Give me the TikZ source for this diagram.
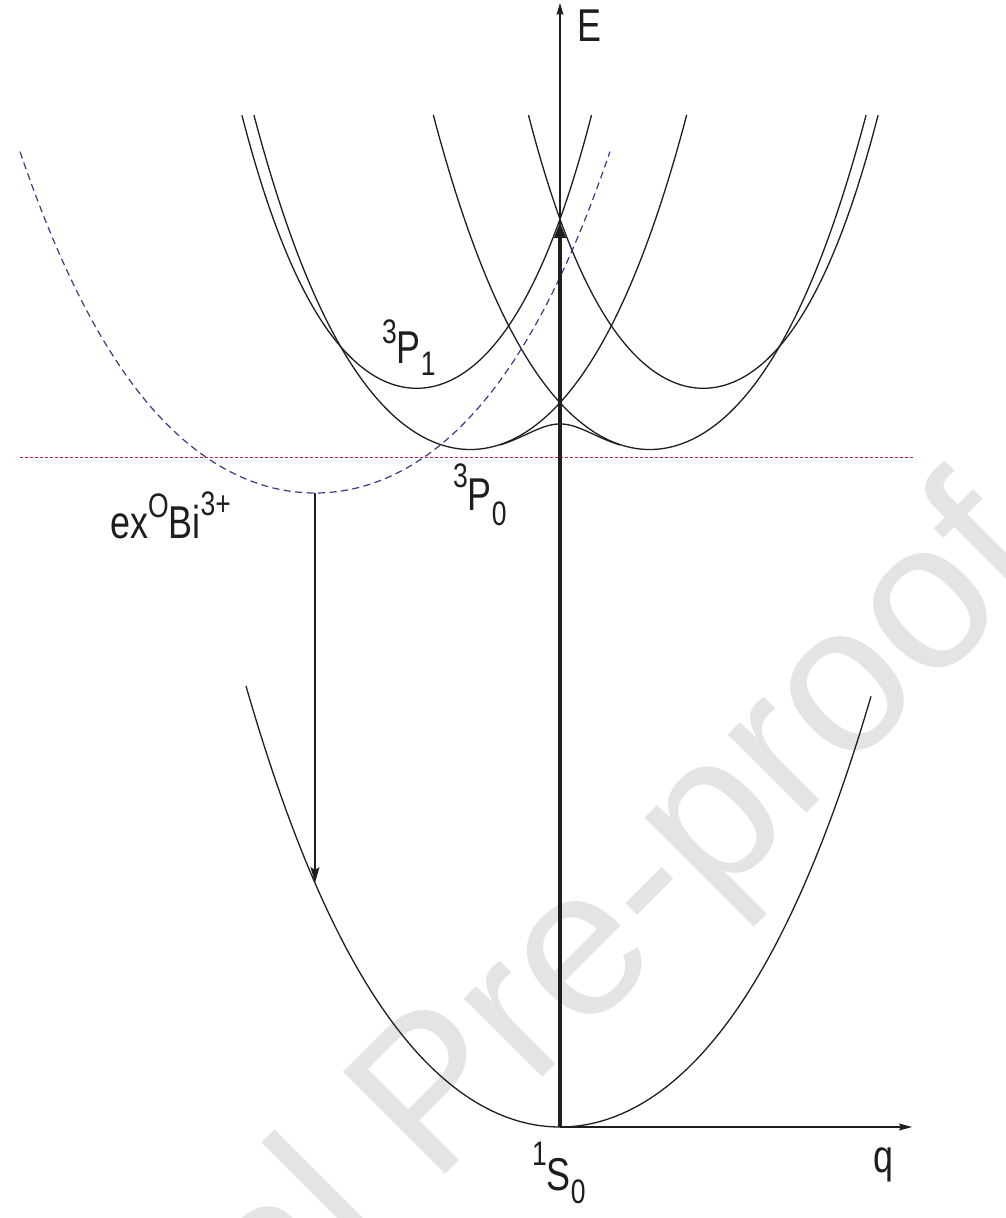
\documentclass[tikz,border=0pt]{standalone}
\usepackage{fontspec}
\setmainfont{Liberation Sans}
\newfontfamily\lbl[FakeStretch=0.78]{Liberation Sans}
\usetikzlibrary{arrows.meta}
\definecolor{ink}{HTML}{1E1E1E}
\definecolor{navy}{HTML}{3A3A8C}
\definecolor{dotred}{RGB}{200,30,60}
\definecolor{wmgray}{HTML}{E4E4E4}
\newcommand\Lsup[2]{\raisebox{#1pt}{\fontsize{34}{34}\selectfont #2}}
\newcommand\Lsub[2]{\raisebox{-#1pt}{\fontsize{34}{34}\selectfont #2}}
\begin{document}
\begin{tikzpicture}[x=1pt,y=-1pt,
  curve/.style={draw=ink,line width=1.3pt},
  lab/.style={text=ink,inner sep=0pt,font=\lbl\fontsize{46}{46}\selectfont},
  wm/.style={text=wmgray,inner sep=0pt,font=\fontsize{210}{210}\selectfont},
  axis/.style={draw=ink,line width=1.1pt},
  level/.style={draw=dotred,line width=1.4pt,dash pattern=on 3pt off 2pt},
  declare function={
    fP(\t)=(\t/100)*(\t/100)*(68+7*(\t/100)*(\t/100));
    fL(\t)=(\t/100)*(\t/100)*(55.42+3.42*(\t/100)*(\t/100));
    fB(\t)=(\t/100)*(\t/100)*(28.7+1.21*(\t/100)*(\t/100));
    fG(\t)=(\t/100)*(\t/100)*(34.3+1.057*(\t/100)*(\t/100));
    ad(\t)=min(fL(\t-470.3),fL(\t-649.7))-30.7*ln(1+exp(-abs(fL(\t-470.3)-fL(\t-649.7))/30.7));
  }]
\useasboundingbox[fill=white] (0,0) rectangle (1006,1218);
% watermark
\node[wm,rotate=45,anchor=base west] (wm) at (-95,1715) {Journal Pre-proof};
% named points
\coordinate (O) at (560,1127);
\coordinate (Etop) at (560,3);
\coordinate (exc) at (560,222);
\coordinate (qend) at (912,1127);
\coordinate (bimin) at (315,493);
\coordinate (land) at (315,883);
\coordinate (lvlL) at (20,457.5);
\coordinate (lvlR) at (913,457.5);
% reference level
\draw[level] (lvlL) -- (lvlR);
% ground state
\draw[curve] plot[domain=-314:311,samples=140] ({560+\x},{1127-fG(\x)});
% 3P1 diabatic
\draw[curve] plot[domain=-174.8:174.8,samples=120] ({416.7+\x},{388.3-fP(\x)});
\draw[curve] plot[domain=-174.8:174.8,samples=120] ({703.3+\x},{388.3-fP(\x)});
% 3P0 diabatic
\draw[curve] plot[domain=-216.4:216.4,samples=140] ({470.3+\x},{449.5-fL(\x)});
\draw[curve] plot[domain=-216.4:216.4,samples=140] ({649.7+\x},{449.5-fL(\x)});
% adiabatic cap
\draw[curve] plot[domain=500:620,samples=80] (\x,{449.5-ad(\x)});
% exo Bi dashed
\draw[navy,line width=1.2pt,dash pattern=on 7pt off 4.5pt] plot[domain=-295:295,samples=140] ({315+\x},{493-fB(\x)});
% axes
\draw[axis,-{Stealth[length=12pt,width=7pt,inset=2pt]}] (O) -- (Etop);
\draw[axis,-{Stealth[length=13pt,width=7pt,inset=2pt]}] (O) -- (qend);
\draw[draw=ink,line width=3.6pt,-{Triangle[length=16pt,width=11pt]}] (O) -- (exc);
\draw[draw=ink,line width=1.5pt,-{Stealth[length=16pt,width=9pt,inset=3pt]}] (bimin) -- (land);
% labels
\node[lab,anchor=base west] (Elab) at (577,41) {E};
\node[lab,anchor=base west] (p1lab) at (382,363) {\Lsup{20}{3}P\Lsub{12}{1}};
\node[lab,anchor=base west] (p0lab) at (453,510) {\Lsup{23}{3}P\Lsub{15}{0}};
\node[lab,anchor=base west] (bilab) at (110,538) {ex\Lsup{21}{O}Bi\Lsup{23}{3+}};
\node[lab,anchor=base west] (s0lab) at (532,1190) {\Lsup{25}{1}S\Lsub{13}{0}};
\node[lab,anchor=base west] (qlab) at (873,1172) {q};
\end{tikzpicture}
\end{document}
